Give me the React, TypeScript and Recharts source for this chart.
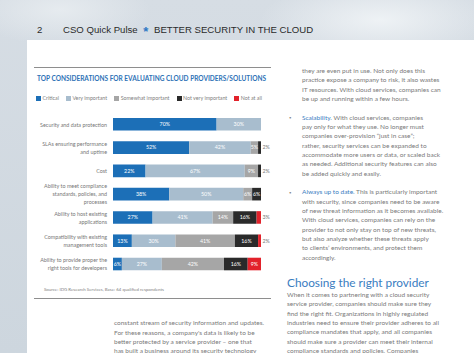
import { BarChart, Bar, XAxis, YAxis, LabelList, Legend } from "recharts"

const categories = [
  "Security and data protection",
  "SLAs ensuring performance\nand uptime",
  "Cost",
  "Ability to meet compliance\nstandards, policies, and\nprocesses",
  "Ability to host existing\napplications",
  "Compatibility with existing\nmanagement tools",
  "Ability to provide proper the\nright tools for developers",
]
const seriesNames = ["Critical", "Very important", "Somewhat important", "Not very important", "Not at all"]
const seriesKeys = ["critical", "veryImportant", "somewhatImportant", "notVeryImportant", "notAtAll"]
const critical = [70, 52, 22, 38, 27, 13, 6]
const veryImportant = [30, 42, 67, 50, 41, 30, 27]
const somewhatImportant = [0, 5, 9, 6, 14, 41, 42]
const notVeryImportant = [0, 2, 2, 6, 16, 16, 16]
const notAtAll = [0, 0, 0, 0, 3, 2, 9]
const seriesColors = ["#1c6fb7", "#a8bdce", "#a6a6a6", "#2a2a2a", "#e2222b"]

const series = [critical, veryImportant, somewhatImportant, notVeryImportant, notAtAll]
const data = categories.map((name, i) => {
  const row: Record<string, string | number> = { name }
  seriesKeys.forEach((k, s) => (row[k] = series[s][i]))
  return row
})

const leftBottomText = [
  "constant stream of security information and updates.",
  "For these reasons, a company's data is likely to be",
  "better protected by a service provider \u2013 one that",
  "has built a business around its security technology",
]
const introText = [
  "they are even put in use. Not only does this",
  "practice expose a company to risk, it also wastes",
  "IT resources. With cloud services, companies can",
  "be up and running within a few hours.",
]
const scalabilityText = [
  " With cloud services, companies",
  "pay only for what they use. No longer must",
  "companies over-provision \u201cjust in case\u201d;",
  "rather, security services can be expanded to",
  "accommodate more users or data, or scaled back",
  "as needed. Additional security features can also",
  "be added quickly and easily.",
]
const upToDateText = [
  " This is particularly important",
  "with security, since companies need to be aware",
  "of new threat information as it becomes available.",
  "With cloud services, companies can rely on the",
  "provider to not only stay on top of new threats,",
  "but also analyze whether these threats apply",
  "to clients\u2019 environments, and protect them",
  "accordingly.",
]
const providerText = [
  "When it comes to partnering with a cloud security",
  "service provider, companies should make sure they",
  "find the right fit. Organizations in highly regulated",
  "industries need to ensure their provider adheres to all",
  "compliance mandates that apply, and all companies",
  "should make sure a provider can meet their internal",
  "compliance standards and policies. Companies",
]

const bodyFont = "Lato, 'Open Sans', sans-serif"
const bodyColor = "#7a7a7a"
const blueText = "#3a7dbf"
const STEP = 9.33

function Lines({ x, y, lines, lead }: { x: number; y: number; lines: string[]; lead?: string }) {
  return (
    <>
      {lines.map((t, i) => (
        <div
          key={i}
          style={{
            position: "absolute",
            left: x,
            top: y + i * STEP - 5,
            height: 10,
            lineHeight: "10px",
            whiteSpace: "nowrap",
            fontFamily: bodyFont,
            fontSize: 6.5,
            color: bodyColor,
          }}
        >
          {i === 0 && lead ? <span style={{ color: blueText }}>{lead}</span> : null}
          {t}
        </div>
      ))}
    </>
  )
}

function CategoryTick({ x, y, payload }: any) {
  const lines = String(payload.value).split("\n")
  const lh = 8
  const start = y - ((lines.length - 1) * lh) / 2
  return (
    <text x={x} y={start} textAnchor="end" fontFamily={bodyFont} fontSize={5.4} fill="#777">
      {lines.map((l, i) => (
        <tspan key={i} x={x} y={start + i * lh} dy="0.35em">
          {l}
        </tspan>
      ))}
    </text>
  )
}

const makeLabel = (props: any) => {
  const { x, y, width, height, value } = props
  if (!value) return null
  if (value <= 3) {
    return (
      <text x={x + width + 1.5} y={y + height / 2} dy="0.35em" fontFamily={bodyFont} fontSize={5.3} fill="#777">
        {value}%
      </text>
    )
  }
  return (
    <text x={x + width / 2} y={y + height / 2} dy="0.35em" textAnchor="middle" fontFamily={bodyFont} fontSize={5.3} fill="#fff">
      {value}%
    </text>
  )
}

function LegendContent() {
  return (
    <div style={{ display: "flex", gap: 7, fontFamily: bodyFont, fontSize: 5.3, color: "#808080", lineHeight: "7px" }}>
      {seriesNames.map((n, i) => (
        <div key={n} style={{ display: "flex", alignItems: "center", gap: 1.5 }}>
          <span style={{ width: 5, height: 5, background: seriesColors[i], display: "inline-block" }} />
          <span>{n}</span>
        </div>
      ))}
    </div>
  )
}

export default function App() {
  return (
    <div
      style={{
        position: "fixed",
        left: 0,
        top: 0,
        width: 474,
        height: 353,
        overflow: "hidden",
        background:
          "radial-gradient(ellipse 120px 40px at 380px 20px, #eef2f5 0%, rgba(238,242,245,0) 100%), radial-gradient(ellipse 90px 35px at 60px 10px, #e6ebef 0%, rgba(230,235,239,0) 100%), linear-gradient(180deg, #d6dde4 0%, #cdd6de 100%)",
      }}
    >
      {/* header */}
      <div style={{ position: "absolute", left: 37, top: 24, fontFamily: "'Liberation Sans', Arial, sans-serif", fontSize: 9.6, color: "#2b2b2b", lineHeight: "12px", whiteSpace: "nowrap" }}>
        2
      </div>
      <div style={{ position: "absolute", left: 63, top: 24, fontFamily: "'Liberation Sans', Arial, sans-serif", fontSize: 9.6, color: "#2b2b2b", lineHeight: "12px", whiteSpace: "nowrap" }}>
        CSO Quick Pulse{" "}
        <span style={{ color: "#2f78c4", fontSize: 13, fontWeight: 700, margin: "0 3px", verticalAlign: "-3px" }}>*</span>{" "}
        BETTER SECURITY IN THE CLOUD
      </div>

      {/* page */}
      <div style={{ position: "absolute", left: 27, top: 40, right: 0, bottom: 0, background: "#ffffff" }} />

      {/* chart frame */}
      <div style={{ position: "absolute", left: 34, top: 66.5, width: 237, height: 1.6, background: "#8e8e8e" }} />
      <div style={{ position: "absolute", left: 34, top: 297.5, width: 237, height: 1.6, background: "#8e8e8e" }} />
      <svg style={{ position: "absolute", left: 0, top: 0 }} width={474} height={100}>
        <text x={37} y={79} dy="0.35em" fontFamily={bodyFont} fontWeight={700} fontSize={7} fill="#2e72b6" textLength={229} lengthAdjust="spacingAndGlyphs">
          TOP CONSIDERATIONS FOR EVALUATING CLOUD PROVIDERS/SOLUTIONS
        </text>
      </svg>
      <div style={{ position: "absolute", left: 44, top: 287, fontFamily: bodyFont, fontSize: 4.4, color: "#808080", whiteSpace: "nowrap", lineHeight: "6px" }}>
        Source: IDG Research Services, Base: 64 qualified respondents
      </div>

      <div style={{ position: "absolute", left: 0, top: 0 }}>
        <BarChart
          width={290}
          height={290}
          data={data}
          layout="vertical"
          stackOffset="expand"
          margin={{ top: 113, right: 29, bottom: 14, left: 0 }}
          barCategoryGap={0}
        >
          <XAxis type="number" hide domain={[0, 1]} />
          <YAxis type="category" dataKey="name" width={113} axisLine={false} tickLine={false} tickMargin={0} tick={<CategoryTick />} interval={0} />
          <Legend
            layout="horizontal"
            verticalAlign="middle"
            align="center"
            content={<LegendContent />}
            wrapperStyle={{ top: 95, left: 36, width: 240, height: 8 }}
          />
          {seriesKeys.map((k, i) => (
            <Bar key={k} dataKey={k} name={seriesNames[i]} stackId="a" fill={seriesColors[i]} barSize={12.6} isAnimationActive={false}>
              <LabelList dataKey={k} content={makeLabel} />
            </Bar>
          ))}
        </BarChart>
      </div>

      {/* bottom-left text */}
      <Lines x={114} y={323.3} lines={leftBottomText} />

      {/* right column */}
      <Lines x={302} y={71} lines={introText} />
      <div style={{ position: "absolute", left: 289, top: 113, fontSize: 7, color: bodyColor, lineHeight: "10px" }}>{"\u2022"}</div>
      <Lines x={302} y={117.7} lines={scalabilityText} lead="Scalability." />
      <div style={{ position: "absolute", left: 289, top: 187.5, fontSize: 7, color: bodyColor, lineHeight: "10px" }}>{"\u2022"}</div>
      <Lines x={302} y={192.3} lines={upToDateText} lead="Always up to date." />
      <div style={{ position: "absolute", left: 287, top: 275, fontFamily: bodyFont, fontSize: 11.8, color: blueText, lineHeight: "15px", whiteSpace: "nowrap" }}>
        Choosing the right provider
      </div>
      <Lines x={287} y={295} lines={providerText} />
    </div>
  )
}
